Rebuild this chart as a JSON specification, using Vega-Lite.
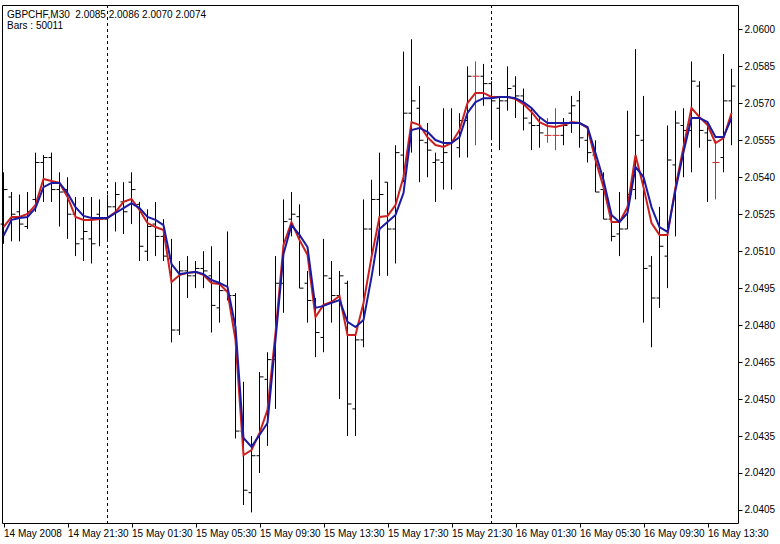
{
  "$schema": "https://vega.github.io/schema/vega-lite/v6.json",
  "width": 736,
  "height": 518,
  "autosize": "none",
  "padding": {"left": 2, "top": 5, "right": 42, "bottom": 21},
  "background": "white",
  "config": {
    "view": {"stroke": "black", "strokeWidth": 1},
    "font": "Liberation Sans",
    "axis": {"labelFont": "Liberation Sans", "labelFontSize": 10, "labelColor": "black", "tickColor": "black", "domain": false, "grid": false, "title": null}
  },
  "title": {
    "text": ["GBPCHF,M30\u00a0 2.0085 2.0086 2.0070 2.0074", "Bars : 50011"],
    "anchor": "start", "frame": "group", "orient": "top", "baseline": "top",
    "offset": -3, "dx": 5, "dy": 23, "fontSize": 10, "fontWeight": "normal", "font": "Liberation Sans", "lineHeight": 11, "color": "black"
  },
  "data": {"values": [
    {"t":"2008-05-14 17:30","o":2.0521,"h":2.0542,"l":2.0513,"c":2.0535,"r":2.05198,"b":2.05162},
    {"t":"2008-05-14 18:00","o":2.0532,"h":2.0534,"l":2.0514,"c":2.0525,"r":2.05239,"b":2.05227},
    {"t":"2008-05-14 18:30","o":2.0526,"h":2.0533,"l":2.0514,"c":2.0521,"r":2.05239,"b":2.05235},
    {"t":"2008-05-14 19:00","o":2.0520,"h":2.0534,"l":2.0519,"c":2.0526,"r":2.05251,"b":2.05239},
    {"t":"2008-05-14 19:30","o":2.0531,"h":2.0550,"l":2.0526,"c":2.0546,"r":2.05287,"b":2.05275},
    {"t":"2008-05-14 20:00","o":2.0546,"h":2.0549,"l":2.0530,"c":2.0548,"r":2.05393,"b":2.05360},
    {"t":"2008-05-14 20:30","o":2.0548,"h":2.0550,"l":2.0530,"c":2.0535,"r":2.05385,"b":2.05377},
    {"t":"2008-05-14 21:00","o":2.0535,"h":2.0542,"l":2.0520,"c":2.0534,"r":2.05377,"b":2.05377},
    {"t":"2008-05-14 21:30","o":2.0535,"h":2.0540,"l":2.0515,"c":2.0525,"r":2.05320,"b":2.05336},
    {"t":"2008-05-14 22:00","o":2.0525,"h":2.0532,"l":2.0508,"c":2.0513,"r":2.05239,"b":2.05279},
    {"t":"2008-05-14 22:30","o":2.0515,"h":2.0532,"l":2.0506,"c":2.0518,"r":2.05227,"b":2.05243},
    {"t":"2008-05-14 23:00","o":2.0515,"h":2.0532,"l":2.0505,"c":2.0513,"r":2.05227,"b":2.05235},
    {"t":"2008-05-14 23:30","o":2.0525,"h":2.0531,"l":2.0512,"c":2.0523,"r":2.05231,"b":2.05235},
    {"t":"2008-05-15 00:00","o":2.0523,"h":2.0533,"l":2.0515,"c":2.0528,"r":2.05235,"b":2.05235},
    {"t":"2008-05-15 00:30","o":2.0528,"h":2.0538,"l":2.0518,"c":2.0533,"r":2.05259,"b":2.05255},
    {"t":"2008-05-15 01:00","o":2.0530,"h":2.0538,"l":2.0517,"c":2.0526,"r":2.05300,"b":2.05275},
    {"t":"2008-05-15 01:30","o":2.0538,"h":2.0542,"l":2.0521,"c":2.0535,"r":2.05312,"b":2.05295},
    {"t":"2008-05-15 02:00","o":2.0529,"h":2.0530,"l":2.0506,"c":2.0512,"r":2.05267,"b":2.05275},
    {"t":"2008-05-15 02:30","o":2.0510,"h":2.0527,"l":2.0506,"c":2.0520,"r":2.05214,"b":2.05239},
    {"t":"2008-05-15 03:00","o":2.0521,"h":2.0530,"l":2.0508,"c":2.0516,"r":2.05198,"b":2.05227},
    {"t":"2008-05-15 03:30","o":2.0516,"h":2.0523,"l":2.0506,"c":2.0508,"r":2.05186,"b":2.05206},
    {"t":"2008-05-15 04:00","o":2.0507,"h":2.0515,"l":2.0473,"c":2.0478,"r":2.04975,"b":2.05048},
    {"t":"2008-05-15 04:30","o":2.0478,"h":2.0506,"l":2.0476,"c":2.0502,"r":2.05003,"b":2.05007},
    {"t":"2008-05-15 05:00","o":2.0502,"h":2.0508,"l":2.0491,"c":2.0500,"r":2.05012,"b":2.05012},
    {"t":"2008-05-15 05:30","o":2.0500,"h":2.0506,"l":2.0495,"c":2.0503,"r":2.05016,"b":2.05016},
    {"t":"2008-05-15 06:00","o":2.0503,"h":2.0510,"l":2.0495,"c":2.0502,"r":2.05003,"b":2.05007},
    {"t":"2008-05-15 06:30","o":2.0500,"h":2.0512,"l":2.0477,"c":2.0488,"r":2.04971,"b":2.04983},
    {"t":"2008-05-15 07:00","o":2.0487,"h":2.0506,"l":2.0481,"c":2.0494,"r":2.04967,"b":2.04971},
    {"t":"2008-05-15 07:30","o":2.0494,"h":2.0518,"l":2.0490,"c":2.0492,"r":2.04934,"b":2.04955},
    {"t":"2008-05-15 08:00","o":2.0492,"h":2.0493,"l":2.0434,"c":2.0437,"r":2.04740,"b":2.04792},
    {"t":"2008-05-15 08:30","o":2.0437,"h":2.0457,"l":2.0407,"c":2.0413,"r":2.04273,"b":2.04342},
    {"t":"2008-05-15 09:00","o":2.0412,"h":2.0435,"l":2.0404,"c":2.0427,"r":2.04293,"b":2.04306},
    {"t":"2008-05-15 09:30","o":2.0427,"h":2.0461,"l":2.0420,"c":2.0459,"r":2.04362,"b":2.04354},
    {"t":"2008-05-15 10:00","o":2.0458,"h":2.0469,"l":2.0431,"c":2.0466,"r":2.04456,"b":2.04403},
    {"t":"2008-05-15 10:30","o":2.0466,"h":2.0508,"l":2.0446,"c":2.0497,"r":2.04768,"b":2.04740},
    {"t":"2008-05-15 11:00","o":2.0497,"h":2.0531,"l":2.0485,"c":2.0522,"r":2.05125,"b":2.05089},
    {"t":"2008-05-15 11:30","o":2.0523,"h":2.0534,"l":2.0516,"c":2.0525,"r":2.05218,"b":2.05206},
    {"t":"2008-05-15 12:00","o":2.0524,"h":2.0529,"l":2.0495,"c":2.0495,"r":2.05145,"b":2.05166},
    {"t":"2008-05-15 12:30","o":2.0497,"h":2.0502,"l":2.0481,"c":2.0490,"r":2.05085,"b":2.05117},
    {"t":"2008-05-15 13:00","o":2.0490,"h":2.0491,"l":2.0467,"c":2.0477,"r":2.04833,"b":2.04870},
    {"t":"2008-05-15 13:30","o":2.0475,"h":2.0515,"l":2.0469,"c":2.0500,"r":2.04882,"b":2.04878},
    {"t":"2008-05-15 14:00","o":2.0499,"h":2.0506,"l":2.0481,"c":2.0492,"r":2.04894,"b":2.04890},
    {"t":"2008-05-15 14:30","o":2.0492,"h":2.0502,"l":2.0450,"c":2.0500,"r":2.04918,"b":2.04902},
    {"t":"2008-05-15 15:00","o":2.0497,"h":2.0498,"l":2.0435,"c":2.0448,"r":2.04760,"b":2.04813},
    {"t":"2008-05-15 15:30","o":2.0446,"h":2.0476,"l":2.0435,"c":2.0474,"r":2.04760,"b":2.04792},
    {"t":"2008-05-15 16:00","o":2.0474,"h":2.0531,"l":2.0471,"c":2.0519,"r":2.04890,"b":2.04821},
    {"t":"2008-05-15 16:30","o":2.0519,"h":2.0539,"l":2.0506,"c":2.0531,"r":2.05076,"b":2.04995},
    {"t":"2008-05-15 17:00","o":2.0531,"h":2.0550,"l":2.0500,"c":2.0533,"r":2.05239,"b":2.05190},
    {"t":"2008-05-15 17:30","o":2.0538,"h":2.0538,"l":2.0500,"c":2.0519,"r":2.05243,"b":2.05218},
    {"t":"2008-05-15 18:00","o":2.0519,"h":2.0553,"l":2.0505,"c":2.0550,"r":2.05287,"b":2.05247},
    {"t":"2008-05-15 18:30","o":2.0549,"h":2.0591,"l":2.0538,"c":2.0566,"r":2.05401,"b":2.05336},
    {"t":"2008-05-15 19:00","o":2.0566,"h":2.0596,"l":2.0550,"c":2.0571,"r":2.05624,"b":2.05592},
    {"t":"2008-05-15 19:30","o":2.0568,"h":2.0577,"l":2.0538,"c":2.0555,"r":2.05612,"b":2.05600},
    {"t":"2008-05-15 20:00","o":2.0554,"h":2.0562,"l":2.0540,"c":2.0551,"r":2.05563,"b":2.05584},
    {"t":"2008-05-15 20:30","o":2.0546,"h":2.0550,"l":2.0530,"c":2.0547,"r":2.05531,"b":2.05551},
    {"t":"2008-05-15 21:00","o":2.0546,"h":2.0568,"l":2.0535,"c":2.0550,"r":2.05523,"b":2.05539},
    {"t":"2008-05-15 21:30","o":2.0554,"h":2.0568,"l":2.0535,"c":2.0555,"r":2.05539,"b":2.05539},
    {"t":"2008-05-15 22:00","o":2.0552,"h":2.0566,"l":2.0548,"c":2.0563,"r":2.05592,"b":2.05563},
    {"t":"2008-05-15 22:30","o":2.0563,"h":2.0585,"l":2.0548,"c":2.0581,"r":2.05701,"b":2.05661},
    {"t":"2008-05-15 23:00","o":2.0581,"h":2.0587,"l":2.0553,"c":2.0581,"r":2.05742,"b":2.05705},
    {"t":"2008-05-15 23:30","o":2.0581,"h":2.0586,"l":2.0569,"c":2.0578,"r":2.05742,"b":2.05721},
    {"t":"2008-05-16 00:00","o":2.0578,"h":2.0579,"l":2.0555,"c":2.0571,"r":2.05726,"b":2.05721},
    {"t":"2008-05-16 00:30","o":2.0568,"h":2.0573,"l":2.0551,"c":2.0571,"r":2.05726,"b":2.05726},
    {"t":"2008-05-16 01:00","o":2.0571,"h":2.0585,"l":2.0567,"c":2.0576,"r":2.05726,"b":2.05726},
    {"t":"2008-05-16 01:30","o":2.0577,"h":2.0581,"l":2.0564,"c":2.0573,"r":2.05717,"b":2.05721},
    {"t":"2008-05-16 02:00","o":2.0573,"h":2.0576,"l":2.0559,"c":2.0564,"r":2.05697,"b":2.05705},
    {"t":"2008-05-16 02:30","o":2.0562,"h":2.0568,"l":2.0551,"c":2.0561,"r":2.05665,"b":2.05681},
    {"t":"2008-05-16 03:00","o":2.0561,"h":2.0564,"l":2.0552,"c":2.0558,"r":2.05624,"b":2.05644},
    {"t":"2008-05-16 03:30","o":2.0557,"h":2.0564,"l":2.0554,"c":2.0557,"r":2.05608,"b":2.05620},
    {"t":"2008-05-16 04:00","o":2.0557,"h":2.0568,"l":2.0551,"c":2.0557,"r":2.05604,"b":2.05620},
    {"t":"2008-05-16 04:30","o":2.0557,"h":2.0564,"l":2.0553,"c":2.0561,"r":2.05612,"b":2.05620},
    {"t":"2008-05-16 05:00","o":2.0566,"h":2.0573,"l":2.0558,"c":2.0569,"r":2.05624,"b":2.05620},
    {"t":"2008-05-16 05:30","o":2.0571,"h":2.0575,"l":2.0552,"c":2.0556,"r":2.05620,"b":2.05620},
    {"t":"2008-05-16 06:00","o":2.0555,"h":2.0560,"l":2.0546,"c":2.0550,"r":2.05600,"b":2.05604},
    {"t":"2008-05-16 06:30","o":2.0549,"h":2.0555,"l":2.0534,"c":2.0534,"r":2.05470,"b":2.05498},
    {"t":"2008-05-16 07:00","o":2.0535,"h":2.0542,"l":2.0523,"c":2.0523,"r":2.05360,"b":2.05389},
    {"t":"2008-05-16 07:30","o":2.0523,"h":2.0525,"l":2.0514,"c":2.0516,"r":2.05218,"b":2.05247},
    {"t":"2008-05-16 08:00","o":2.0517,"h":2.0534,"l":2.0508,"c":2.0519,"r":2.05218,"b":2.05218},
    {"t":"2008-05-16 08:30","o":2.0519,"h":2.0567,"l":2.0519,"c":2.0533,"r":2.05279,"b":2.05255},
    {"t":"2008-05-16 09:00","o":2.0535,"h":2.0592,"l":2.0531,"c":2.0557,"r":2.05490,"b":2.05442},
    {"t":"2008-05-16 09:30","o":2.0555,"h":2.0573,"l":2.0481,"c":2.0503,"r":2.05360,"b":2.05401},
    {"t":"2008-05-16 10:00","o":2.0504,"h":2.0508,"l":2.0471,"c":2.0491,"r":2.05214,"b":2.05279},
    {"t":"2008-05-16 10:30","o":2.0491,"h":2.0528,"l":2.0487,"c":2.0512,"r":2.05166,"b":2.05198},
    {"t":"2008-05-16 11:00","o":2.0508,"h":2.0561,"l":2.0495,"c":2.0547,"r":2.05166,"b":2.05178},
    {"t":"2008-05-16 11:30","o":2.0545,"h":2.0567,"l":2.0516,"c":2.0562,"r":2.05360,"b":2.05348},
    {"t":"2008-05-16 12:00","o":2.0561,"h":2.0568,"l":2.0540,"c":2.0559,"r":2.05523,"b":2.05502},
    {"t":"2008-05-16 12:30","o":2.0559,"h":2.0587,"l":2.0542,"c":2.0579,"r":2.05681,"b":2.05640},
    {"t":"2008-05-16 13:00","o":2.0577,"h":2.0579,"l":2.0552,"c":2.0559,"r":2.05644,"b":2.05640},
    {"t":"2008-05-16 13:30","o":2.0558,"h":2.0562,"l":2.0530,"c":2.0555,"r":2.05612,"b":2.05624},
    {"t":"2008-05-16 14:00","o":2.0546,"h":2.0555,"l":2.0531,"c":2.0546,"r":2.05539,"b":2.05563},
    {"t":"2008-05-16 14:30","o":2.0548,"h":2.0590,"l":2.0542,"c":2.0571,"r":2.05559,"b":2.05563},
    {"t":"2008-05-16 15:00","o":2.0571,"h":2.0584,"l":2.0553,"c":2.0577,"r":2.05661,"b":2.05640}
  ]},
  "encoding": {
    "x": {
      "field": "t", "type": "temporal",
      "scale": {"domain": [
        {"year": 2008, "month": 5, "date": 14, "hours": 17, "minutes": 24, "seconds": 22, "milliseconds": 500},
        {"year": 2008, "month": 5, "date": 16, "hours": 15, "minutes": 24, "seconds": 22, "milliseconds": 500}
      ]},
      "axis": {
        "title": null,
        "values": [
          {"year": 2008, "month": 5, "date": 14, "hours": 17, "minutes": 30},
          {"year": 2008, "month": 5, "date": 14, "hours": 21, "minutes": 30},
          {"year": 2008, "month": 5, "date": 15, "hours": 1, "minutes": 30},
          {"year": 2008, "month": 5, "date": 15, "hours": 5, "minutes": 30},
          {"year": 2008, "month": 5, "date": 15, "hours": 9, "minutes": 30},
          {"year": 2008, "month": 5, "date": 15, "hours": 13, "minutes": 30},
          {"year": 2008, "month": 5, "date": 15, "hours": 17, "minutes": 30},
          {"year": 2008, "month": 5, "date": 15, "hours": 21, "minutes": 30},
          {"year": 2008, "month": 5, "date": 16, "hours": 1, "minutes": 30},
          {"year": 2008, "month": 5, "date": 16, "hours": 5, "minutes": 30},
          {"year": 2008, "month": 5, "date": 16, "hours": 9, "minutes": 30},
          {"year": 2008, "month": 5, "date": 16, "hours": 13, "minutes": 30}
        ],
        "labelExpr": "datum.index == 0 ? '14 May 2008' : timeFormat(datum.value, '%d %b %H:%M')",
        "labelAlign": "left", "labelFlush": false, "labelOverlap": false,
        "tickSize": 4, "labelPadding": 1
      }
    }
  },
  "layer": [
    {
      "data": {"values": [{"t": "2008-05-15 00:00"}, {"t": "2008-05-16 00:00"}]},
      "mark": {"type": "rule", "color": "black", "strokeWidth": 1, "strokeDash": [3, 3]},
      "encoding": {}
    },
    {
      "mark": {"type": "rule", "strokeWidth": 1},
      "encoding": {
        "y": {"field": "l", "type": "quantitative",
          "scale": {"domain": [2.03997, 2.06099], "nice": false, "zero": false},
          "axis": {"title": null, "orient": "right", "values": [2.0405, 2.042, 2.0435, 2.045, 2.0465, 2.048, 2.0495, 2.051, 2.0525, 2.054, 2.0555, 2.057, 2.0585, 2.06],
            "format": ".4f", "tickSize": 4, "labelPadding": 2, "labelFlush": false, "labelOverlap": false}},
        "y2": {"field": "h"},
        "color": {"condition": {"test": "datum.o == datum.c", "value": "#d42a2a"}, "value": "black"}
      }
    },
    {
      "mark": {"type": "rule", "strokeWidth": 1, "xOffset": -3, "x2Offset": 0},
      "encoding": {
        "x2": {"field": "t"},
        "y": {"field": "o", "type": "quantitative", "scale": {"domain": [2.03997, 2.06099], "nice": false, "zero": false},
          "axis": {"title": null, "orient": "right", "values": [2.0405, 2.042, 2.0435, 2.045, 2.0465, 2.048, 2.0495, 2.051, 2.0525, 2.054, 2.0555, 2.057, 2.0585, 2.06],
            "format": ".4f", "tickSize": 4, "labelPadding": 2, "labelFlush": false, "labelOverlap": false}},
        "color": {"condition": {"test": "datum.o == datum.c", "value": "#d42a2a"}, "value": "black"}
      }
    },
    {
      "mark": {"type": "rule", "strokeWidth": 1, "xOffset": 0, "x2Offset": 4},
      "encoding": {
        "x2": {"field": "t"},
        "y": {"field": "c", "type": "quantitative", "scale": {"domain": [2.03997, 2.06099], "nice": false, "zero": false},
          "axis": {"title": null, "orient": "right", "values": [2.0405, 2.042, 2.0435, 2.045, 2.0465, 2.048, 2.0495, 2.051, 2.0525, 2.054, 2.0555, 2.057, 2.0585, 2.06],
            "format": ".4f", "tickSize": 4, "labelPadding": 2, "labelFlush": false, "labelOverlap": false}},
        "color": {"condition": {"test": "datum.o == datum.c", "value": "#d42a2a"}, "value": "black"}
      }
    },
    {
      "mark": {"type": "line", "color": "#cc1f1f", "strokeWidth": 2},
      "encoding": {"y": {"field": "r", "type": "quantitative", "scale": {"domain": [2.03997, 2.06099], "nice": false, "zero": false},
        "axis": {"title": null, "orient": "right", "values": [2.0405, 2.042, 2.0435, 2.045, 2.0465, 2.048, 2.0495, 2.051, 2.0525, 2.054, 2.0555, 2.057, 2.0585, 2.06],
          "format": ".4f", "tickSize": 4, "labelPadding": 2, "labelFlush": false, "labelOverlap": false}}}
    },
    {
      "mark": {"type": "line", "color": "#1a1aa3", "strokeWidth": 2},
      "encoding": {"y": {"field": "b", "type": "quantitative", "scale": {"domain": [2.03997, 2.06099], "nice": false, "zero": false},
        "axis": {"title": null, "orient": "right", "values": [2.0405, 2.042, 2.0435, 2.045, 2.0465, 2.048, 2.0495, 2.051, 2.0525, 2.054, 2.0555, 2.057, 2.0585, 2.06],
          "format": ".4f", "tickSize": 4, "labelPadding": 2, "labelFlush": false, "labelOverlap": false}}}
    }
  ]
}
